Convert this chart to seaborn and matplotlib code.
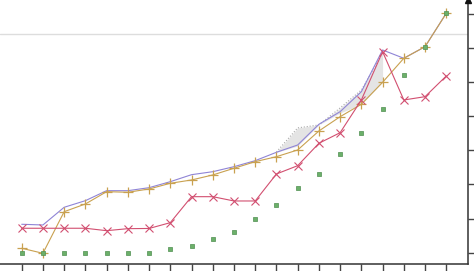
import numpy as np
import pandas as pd
import matplotlib
matplotlib.use("Agg")
import matplotlib.pyplot as plt
import seaborn as sns

# ---- data ----
steps = list(range(21))
series_a = [8.33, 8.12, 13.31, 15.25, 18.18, 18.18, 19.06, 20.82, 22.87, 23.75, 25.22,
            26.98, 29.44, 31.58, 37.65, 41.35, 47.21, 59.44, 57.01, 60.41, 70.2]
series_b = [1.29, -0.18, 12.02, 14.28, 17.89, 17.71, 18.68, 20.35, 21.32, 22.79, 24.75,
            26.69, 28.15, 30.12, 35.69, 39.88, 43.52, 49.97, 57.01, 60.41, 70.2]
series_c = [7.16, 7.16, 7.16, 7.16, 6.45, 7.04, 7.1, 8.80, 16.42, 16.42, 15.16,
            15.16, 23.08, 25.51, 32.08, 35.19, 44.78, 58.94, 44.78, 45.75, 51.82]
series_d = [0, 0, 0, 0, 0, 0, 0, 1.0, 1.96, 4.02, 5.98,
            9.97, 13.99, 18.97, 23.08, 29.03, 35.01, 42.14, 52.08, 60.23, 70.2]
band_steps = [12, 13, 14, 15, 16, 17]
band_low = [29.44, 31.29, 37.45, 40.97, 43.52, 49.97]
band_high = [29.53, 36.6, 37.45, 42.46, 47.7, 58.5]
ref_level = 64.2
yticks = [0, 10, 20, 30, 40, 50, 60, 70]

df = pd.DataFrame({"step": steps, "a": series_a, "b": series_b, "c": series_c, "d": series_d})

sns.set_theme(style="white")
fig = plt.figure(figsize=(4.74, 2.71), dpi=100)
ax = fig.add_axes([0.0, 0.027, 0.9863, 0.973])

ax.fill_between(band_steps, band_low, band_high, color="#d6d6d6", alpha=0.65, lw=0, zorder=1)
ax.plot(band_steps, band_high, color="#aaaaaa", lw=0.8, ls=":", zorder=1)
ax.axhline(ref_level, color="#dddddd", lw=1.0, zorder=0)

c_a, c_b, c_c = "#8f84d6", "#c9a150", "#d24f70"
sns.lineplot(data=df, x="step", y="a", ax=ax, color=c_a, lw=0.8, zorder=2)
sns.lineplot(data=df, x="step", y="b", ax=ax, color=c_b, lw=0.8, marker="+",
             markersize=7.5, markeredgewidth=0.9, markeredgecolor=c_b, zorder=3)
sns.lineplot(data=df, x="step", y="c", ax=ax, color=c_c, lw=0.8, marker="x",
             markersize=6, markeredgewidth=0.8, markeredgecolor=c_c, zorder=4)
sns.scatterplot(data=df, x="step", y="d", ax=ax, color="#6cb06a", marker="s", s=12,
                edgecolor="#4f8f50", linewidth=0.5, zorder=5)

ax.set_xlim(-1.022, 21.0)
ax.set_ylim(-3.23, 74.1)
ax.set_xticks(steps)
ax.set_yticks(yticks)
ax.yaxis.tick_right()
ax.tick_params(axis="x", direction="out", length=7, width=1, color="#444444",
               bottom=True, labelbottom=False)
ax.tick_params(axis="y", direction="out", length=5, width=1, color="#444444",
               right=True, left=False, labelright=False, labelleft=False)
ax.set_xlabel("")
ax.set_ylabel("")
for side in ["left", "top"]:
    ax.spines[side].set_visible(False)
for side in ["bottom", "right"]:
    ax.spines[side].set_visible(True)
    ax.spines[side].set_color("#333333")
    ax.spines[side].set_linewidth(1.1)
ax.plot(1, 1, marker="^", color="#111111", markersize=4, transform=ax.transAxes,
        clip_on=False, zorder=6)

fig.savefig("out.png", dpi=100)
